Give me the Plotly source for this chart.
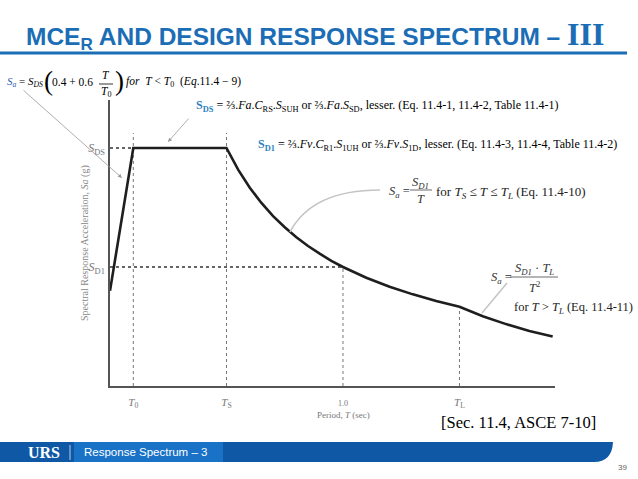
import plotly.graph_objects as go

W, H = 638, 479
SERIF = "Liberation Serif"
SANS = "Liberation Sans"
BLUE = "#1b6db5"

# key spectrum parameters (normalised units)
T0 = 0.1
TS = 0.5
TL = 1.5
SDS = 1.0
SD1 = 0.5

# design spectrum curve
period = [0.0, 0.1, 0.5, 0.55, 0.6, 0.65, 0.7, 0.75, 0.8, 0.85, 0.9, 0.95, 1.0,
          1.1, 1.2, 1.3, 1.4, 1.5, 1.6, 1.7, 1.8, 1.9]
sa = [0.40, 1.00, 1.00, 0.909, 0.833, 0.769, 0.714, 0.667, 0.625, 0.588, 0.556, 0.526, 0.50,
      0.455, 0.417, 0.385, 0.357, 0.333, 0.293, 0.260, 0.231, 0.208]

x_ticks = [T0, TS, 1.0, TL]
x_ticktext = ["<i>T</i><sub>0</sub>", "<i>T</i><sub>S</sub>",
              "<span style='font-size:8px'>1.0</span>", "<i>T</i><sub>L</sub>"]
y_ticks = [SD1, SDS]
y_ticktext = ["<i>S</i><sub>D1</sub>", "<i>S</i><sub>DS</sub>"]


def px(x):
    return x / W


def py(y):
    return 1 - y / H


fig = go.Figure()

# dotted guide lines
dot_dark = dict(color="#333", width=1.4, dash="dot")
dot_light = dict(color="#777", width=1, dash="dot")
guides = [
    ([0, T0], [SDS, SDS], dot_dark),
    ([T0, T0], [0, SDS * 1.063], dot_light),
    ([TS, TS], [0, SDS * 1.063], dot_light),
    ([0, 1.0], [SD1, SD1], dot_dark),
    ([1.0, 1.0], [0, SD1], dot_light),
    ([TL, TL], [0, sa[period.index(TL)]], dot_light),
]
for gx, gy, ln in guides:
    fig.add_trace(go.Scatter(x=gx, y=gy, mode="lines", line=ln, hoverinfo="skip"))

fig.add_trace(go.Scatter(x=period, y=sa, mode="lines",
                         line=dict(color="#1e1e1e", width=2.6)))

annotations = []


def txt(x, y, text, size=12, color="black", family=SERIF, anchor="left"):
    annotations.append(dict(x=px(x), y=py(y), xref="paper", yref="paper", text=text,
                            showarrow=False, xanchor=anchor, yanchor="middle",
                            font=dict(family=family, size=size, color=color)))


# title
txt(24, 35, "<b>MCE<sub>R</sub> AND DESIGN RESPONSE SPECTRUM – "
    "<span style='font-family:Liberation Serif;font-size:32px'>III</span></b>",
    size=24.5, color=BLUE, family=SANS)

# eq 11.4-9
txt(5, 82, "<span style='color:#2b5fb3'><i>S<sub>a</sub></i></span> = <i>S<sub>DS</sub></i>", size=11)
txt(42, 81, "(", size=27)
txt(50, 82, "0.4 + 0.6", size=11.5)
txt(106, 75, "<i>T</i>", size=11.5, anchor="center")
txt(106, 92, "<i>T</i><sub>0</sub>", size=11.5, anchor="center")
txt(113, 81, ")", size=27)
txt(124, 82, "<i>for  T</i> < <i>T</i><sub>0</sub>  (<i>Eq</i>.11.4 − 9)", size=11.5)

# SDS / SD1 definitions
txt(194, 106, "<b><span style='color:#2a7fc0'>S<sub>DS</sub></span></b> = ⅔.<i>Fa</i>.<i>C</i><sub>RS</sub>"
    ".<i>S</i><sub>SUH</sub> or ⅔.<i>Fa</i>.<i>S</i><sub>SD</sub>, lesser. (Eq. 11.4-1, 11.4-2, Table 11.4-1)")
txt(256, 145, "<b><span style='color:#2a7fc0'>S<sub>D1</sub></span></b> = ⅔.<i>Fv</i>.<i>C</i><sub>R1</sub>"
    ".<i>S</i><sub>1UH</sub> or ⅔.<i>Fv</i>.<i>S</i><sub>1D</sub>, lesser. (Eq. 11.4-3, 11.4-4, Table 11.4-2)")

# eq 11.4-10
txt(387, 192, "<i>S<sub>a</sub></i> =", size=12.5, color="#333")
txt(421, 183, "<i>S<sub>D1</sub></i>", size=12.5, color="#333", anchor="center")
txt(421, 199, "<i>T</i>", size=12.5, color="#333", anchor="center")
txt(434, 192, "for <i>T<sub>S</sub></i> ≤ <i>T</i> ≤ <i>T<sub>L</sub></i> (Eq. 11.4-10)", size=13, color="#222")

# eq 11.4-11
txt(489, 278, "<i>S<sub>a</sub></i> =", size=12.5, color="#333")
txt(534, 269, "<i>S<sub>D1</sub></i> · <i>T<sub>L</sub></i>", size=12.5, color="#333", anchor="center")
txt(534, 287, "<i>T</i><sup>2</sup>", size=12.5, color="#333", anchor="center")
txt(512, 308, "for <i>T</i> > <i>T<sub>L</sub></i> (Eq. 11.4-11)", size=12.5, color="#222")

# axis titles
annotations.append(dict(x=px(77), y=py(243), xref="paper", yref="paper", textangle=-90,
                        text="Spectral Response Acceleration, <i>Sa</i> (g)", showarrow=False,
                        font=dict(family=SERIF, size=10, color="#888")))
txt(343, 415, "Period, <i>T</i> (sec)", size=9, color="#777", anchor="center")

# reference + footer text
txt(518, 422, "[Sec. 11.4, ASCE 7-10]", size=16.5, anchor="center")
txt(44, 452, "<b>URS</b>", size=16, color="white", anchor="center")
txt(82, 452, "Response Spectrum – 3", size=11.5, color="white", family=SANS)
txt(622, 467, "39", size=8, color="#666", family=SANS, anchor="center")

# arrows
for hx, hy, tx, ty in [(122, 178, 22, 89), (168, 142, 190, 117)]:
    annotations.append(dict(x=px(hx), y=py(hy), xref="paper", yref="paper", text="",
                            showarrow=True, ax=tx - hx, ay=ty - hy, arrowhead=2,
                            arrowsize=1, arrowwidth=0.8, arrowcolor="#999"))

shapes = [
    # title rule
    dict(type="line", xref="paper", yref="paper", x0=0, x1=px(627), y0=py(53), y1=py(53),
         line=dict(color=BLUE, width=3)),
    # fraction bars
    dict(type="line", xref="paper", yref="paper", x0=px(99), x1=px(113), y0=py(84), y1=py(84),
         line=dict(color="black", width=0.8)),
    dict(type="line", xref="paper", yref="paper", x0=px(410), x1=px(432), y0=py(190), y1=py(190),
         line=dict(color="#444", width=0.8)),
    dict(type="line", xref="paper", yref="paper", x0=px(510), x1=px(558), y0=py(277), y1=py(277),
         line=dict(color="#444", width=0.8)),
    # light grey leader lines
    dict(type="path", xref="paper", yref="paper",
         path=f"M {px(290)},{py(232)} Q {px(312)},{py(190)} {px(380)},{py(190)}",
         line=dict(color="#c4c4c4", width=1.5)),
    dict(type="line", xref="paper", yref="paper", x0=px(507), x1=px(482), y0=py(283), y1=py(313),
         line=dict(color="#c4c4c4", width=1.5)),
    # footer bar
    dict(type="path", xref="paper", yref="paper", layer="below",
         path=f"M 0,{py(442)} L {px(613)},{py(442)} Q {px(612)},{py(462)} {px(594)},{py(462)} "
              f"L 0,{py(462)} Z",
         fillcolor="#0e58a6", line=dict(width=0)),
    dict(type="rect", xref="paper", yref="paper", x0=px(74), x1=px(223), y0=py(462), y1=py(442),
         fillcolor="#1a72c6", line=dict(width=0), layer="below"),
    dict(type="line", xref="paper", yref="paper", x0=px(70), x1=px(70), y0=py(445), y1=py(460),
         line=dict(color="#b8cce6", width=1)),
]

fig.update_layout(
    width=W, height=H,
    margin=dict(l=0, r=0, t=0, b=0),
    paper_bgcolor="white", plot_bgcolor="white",
    showlegend=False,
    annotations=annotations,
    shapes=shapes,
    xaxis=dict(domain=[px(110), px(555)], range=[0, 1.91], showgrid=False, zeroline=False,
               showline=True, linecolor="#555", linewidth=1.5, ticks="",
               tickvals=x_ticks, ticktext=x_ticktext, ticklabelstandoff=5,
               tickfont=dict(family=SERIF, size=11, color="#777")),
    yaxis=dict(domain=[py(386), py(100)], range=[0, 1.2017], showgrid=False, zeroline=False,
               showline=True, linecolor="#555", linewidth=1.5, ticks="",
               tickvals=y_ticks, ticktext=y_ticktext, ticklabelstandoff=1,
               tickfont=dict(family=SERIF, size=12, color="#777")),
)

# drop the browser's default 8px body margin so the slide sits at the page corner
fig.write_html("out.html", config={"displayModeBar": False},
               post_script="document.body.style.margin='0';")
